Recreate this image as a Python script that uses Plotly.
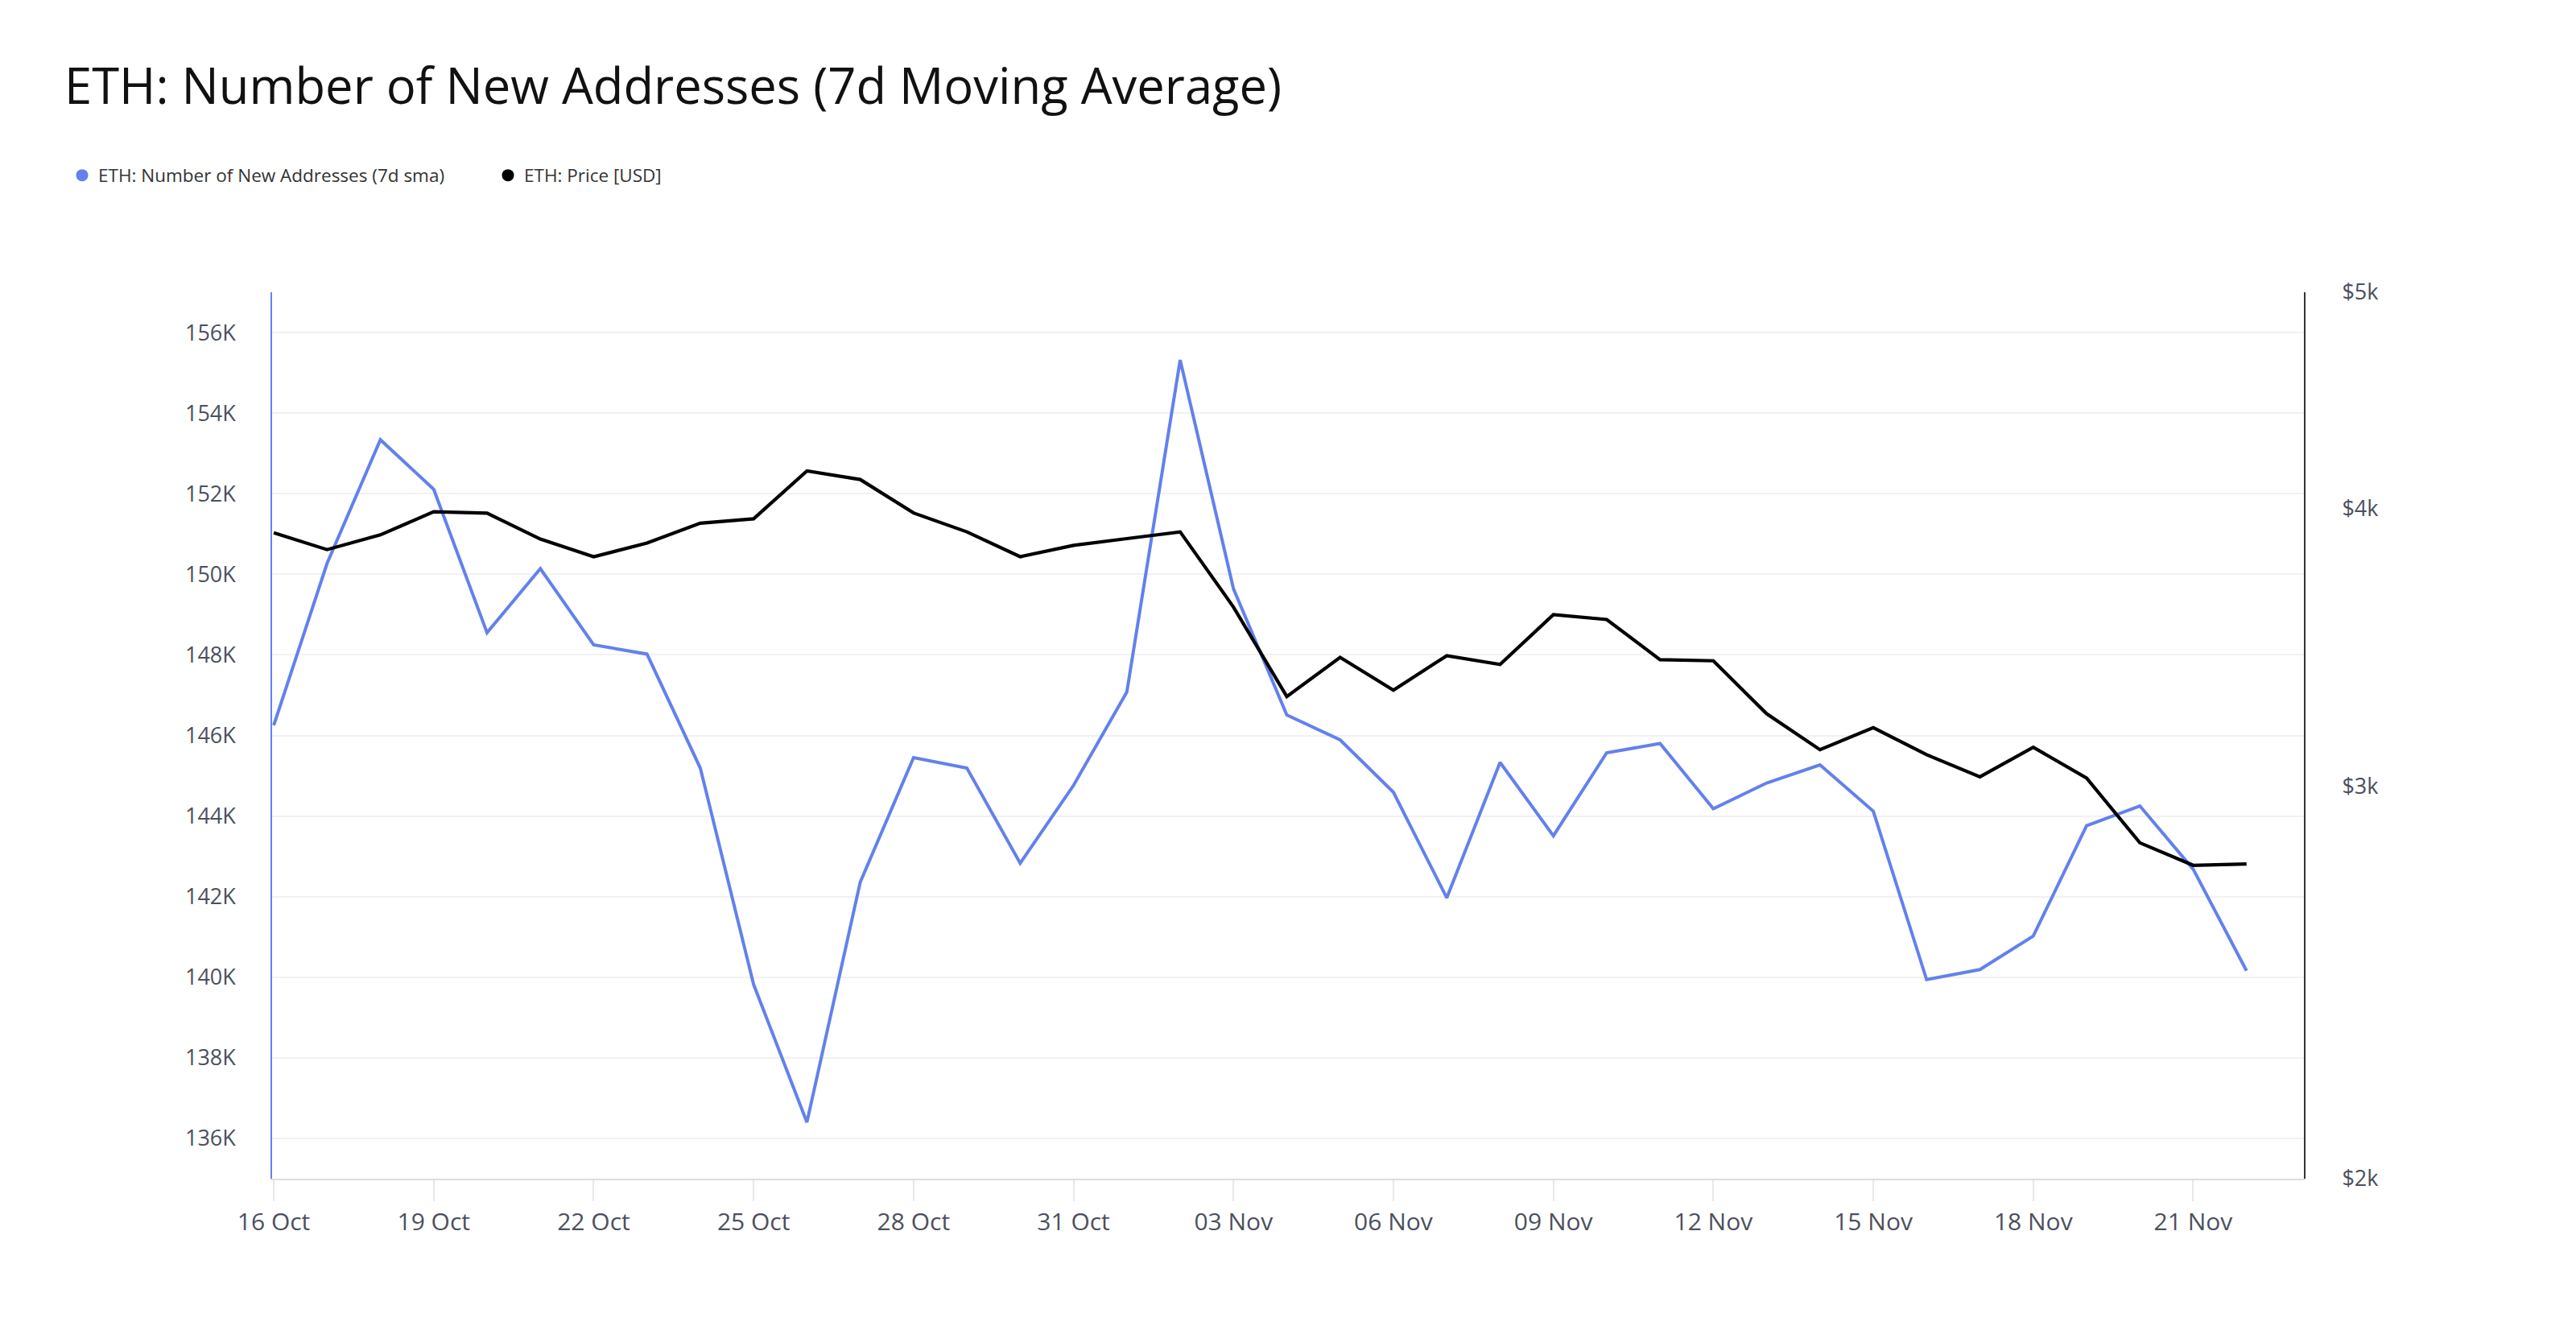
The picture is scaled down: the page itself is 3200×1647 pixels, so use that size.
import plotly.graph_objects as go
import pandas as pd

dates = pd.date_range("2025-10-16", "2025-11-22", freq="D")

new_addresses_k = [
    146.25, 150.27, 153.34, 152.11, 148.55, 150.14, 148.25, 148.02, 145.19, 139.82,
    136.40, 142.36, 145.45, 145.19, 142.83, 144.76, 147.08, 155.32, 149.64, 146.51,
    145.89, 144.59, 141.97, 145.33, 143.51, 145.57, 145.80, 144.18, 144.82, 145.27,
    144.12, 139.94, 140.19, 141.02, 143.76, 144.25, 142.68, 140.16,
]
new_addresses = [v * 1000 for v in new_addresses_k]

price_usd = [
    3899, 3832, 3891, 3985, 3979, 3874, 3804, 3858, 3938, 3956,
    4157, 4120, 3980, 3903, 3804, 3849, 3876, 3903, 3611, 3292,
    3428, 3314, 3434, 3403, 3583, 3565, 3420, 3416, 3234, 3116,
    3188, 3100, 3030, 3124, 3026, 2830, 2765, 2769,
]

left_ticks = [136000, 138000, 140000, 142000, 144000, 146000, 148000, 150000, 152000, 154000, 156000]
left_labels = ["136K", "138K", "140K", "142K", "144K", "146K", "148K", "150K", "152K", "154K", "156K"]
right_ticks = [2000, 3000, 4000, 5000]
right_labels = ["$2k", "$3k", "$4k", "$5k"]

BLUE = "#6381ec"
BLACK = "#000000"
TICK_COLOR = "#4b505e"
FONT = "Open Sans"

L, R, T, B = 330, 346, 355, 191
PW = 3200 - L - R
PH = 1647 - T - B

fig = go.Figure()
fig.add_trace(go.Scatter(
    x=dates, y=new_addresses, mode="lines", name="ETH: Number of New Addresses (7d sma)",
    line=dict(color=BLUE, width=4), yaxis="y", showlegend=False,
))
fig.add_trace(go.Scatter(
    x=dates, y=price_usd, mode="lines", name="ETH: Price [USD]",
    line=dict(color=BLACK, width=4.2), yaxis="y2", showlegend=False,
))
# legend entries (circle symbols)
fig.add_trace(go.Scatter(
    x=[None], y=[None], mode="markers", name="ETH: Number of New Addresses (7d sma)",
    marker=dict(color=BLUE, size=15), showlegend=True,
))
fig.add_trace(go.Scatter(
    x=[None], y=[None], mode="markers", name="ETH: Price [USD]",
    marker=dict(color=BLACK, size=15), showlegend=True,
))

fig.update_layout(
    width=3200, height=1647,
    paper_bgcolor="white", plot_bgcolor="white",
    margin=dict(l=L, r=R, t=T, b=B),
    font=dict(family=FONT, color=TICK_COLOR),
    title=dict(
        text="ETH: Number of New Addresses (7d Moving Average)",
        font=dict(family=FONT, size=61.5, color="#111111"),
        xref="container", yref="container", x=72 / 3200, xanchor="left",
        y=1 - 99 / 1647, yanchor="middle",
    ),
    legend=dict(
        orientation="h", x=(74 - L) / PW, xanchor="left",
        y=1 + (T - 210) / PH, yanchor="middle",
        font=dict(family=FONT, size=22.5, color="#333333"),
        bgcolor="rgba(0,0,0,0)", entrywidth=484, entrywidthmode="pixels",
        traceorder="normal",
    ),
    xaxis=dict(
        type="date",
        range=["2025-10-15 23:15", "2025-11-23 01:50"],
        tick0="2025-10-16", dtick=3 * 86400000, tickformat="%d %b",
        showgrid=False, zeroline=False,
        showline=True, linecolor="#dddddd", linewidth=2,
        ticks="outside", ticklen=26, tickwidth=2, tickcolor="#e8e8e8",
        tickfont=dict(family=FONT, size=30, color=TICK_COLOR),
    ),
    yaxis=dict(
        range=[135000, 157000],
        tickvals=left_ticks, ticktext=left_labels,
        showgrid=True, gridcolor="#f1f1f1", gridwidth=2,
        zeroline=False, showline=True, linecolor=BLUE, linewidth=1.5,
        ticks="", ticklabelstandoff=38,
        tickfont=dict(family=FONT, size=27, color=TICK_COLOR),
    ),
    yaxis2=dict(
        type="log", overlaying="y", side="right",
        range=[3.30103, 3.69897],
        tickvals=right_ticks, ticktext=right_labels,
        showgrid=False, zeroline=False,
        showline=True, linecolor="#333333", linewidth=2,
        ticks="", ticklabelstandoff=40,
        tickfont=dict(family=FONT, size=27, color=TICK_COLOR),
    ),
)

fig.write_html("out.html")
